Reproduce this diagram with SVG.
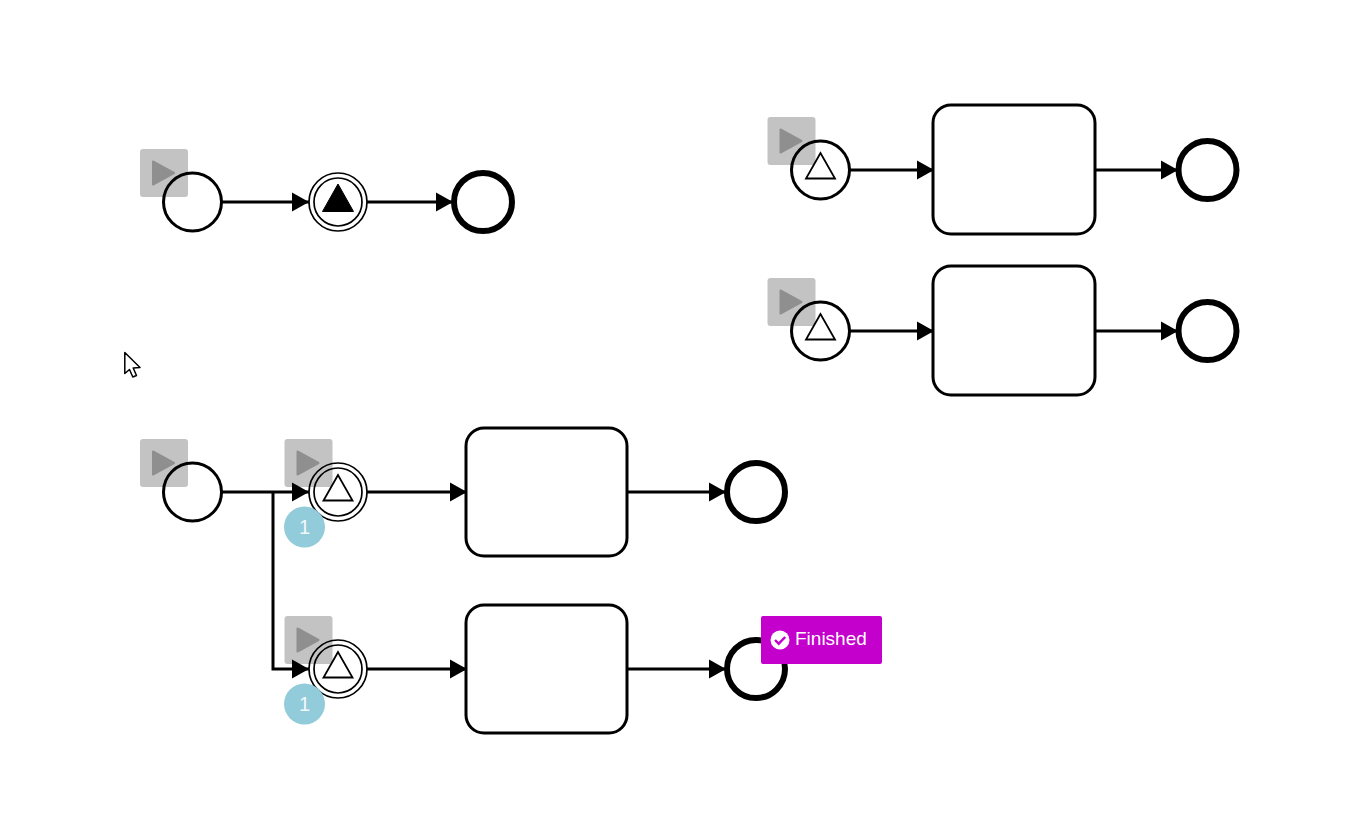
<svg xmlns="http://www.w3.org/2000/svg" width="1361" height="834" viewBox="0 0 1361 834">
<defs>
<style>
.ev{fill:#fff;stroke:#000;stroke-width:3}
.end{fill:#fff;stroke:#000;stroke-width:6}
.thin{fill:#fff;stroke:#000;stroke-width:1.7}
.task{fill:#fff;stroke:#000;stroke-width:3}
.flow{fill:none;stroke:#000;stroke-width:3;marker-end:url(#arrow)}
.tri{fill:#fff;stroke:#000;stroke-width:1.8;stroke-linejoin:miter}
.ov{fill:#000;fill-opacity:.235}
.play{fill:#8f8f8f;stroke:#8f8f8f;stroke-width:2;stroke-linejoin:round}
.count{fill:#92cbda}
.ct{fill:#fff;fill-opacity:.9;font-family:"Liberation Sans",Arial,sans-serif;font-size:20px;text-anchor:middle}
</style>
<marker id="arrow" markerUnits="userSpaceOnUse" markerWidth="18" markerHeight="20" refX="17" refY="10" orient="auto">
<path d="M0 .5L17 10L0 19.500Z" fill="#000"/>
</marker>
<g id="playIcon"><rect class="ov" width="48" height="48" rx="3"/><path class="play" d="M13 12.500L34 24L13 35.500Z"/></g>
</defs>
<g id="connectors">
<path class="flow" d="M222 202H309"/>
<path class="flow" d="M367 202H453"/>
<path class="flow" d="M850 170H934"/>
<path class="flow" d="M1095 170H1178"/>
<path class="flow" d="M850 331H934"/>
<path class="flow" d="M1095 331H1178"/>
<path class="flow" d="M222 492H309"/>
<path class="flow" d="M273 492V669H309"/>
<path class="flow" d="M367 492H467"/>
<path class="flow" d="M627 492H726"/>
<path class="flow" d="M367 669H467"/>
<path class="flow" d="M627 669H726"/>
</g>
<g id="start1"><circle class="ev" cx="192.500" cy="202" r="29"/></g>
<g id="catch1"><circle class="thin" cx="338" cy="202" r="29"/><circle class="thin" cx="338" cy="202" r="24"/><path d="M338 184L322.500 211.500H353.500Z" fill="#000" stroke="#000" stroke-width="1"/></g>
<g id="end1"><circle class="end" cx="483" cy="202" r="29"/></g>
<g id="start2"><circle class="ev" cx="820.500" cy="170" r="29"/><path class="tri" d="M820.500 153L806 178.500H835Z"/></g>
<g id="task2"><rect class="task" x="933" y="105" width="162" height="129" rx="18"/></g>
<g id="end2"><circle class="end" cx="1207.500" cy="170" r="29"/></g>
<g id="start3"><circle class="ev" cx="820.500" cy="331" r="29"/><path class="tri" d="M820.500 314L806 339.500H835Z"/></g>
<g id="task3"><rect class="task" x="933" y="266" width="162" height="129" rx="18"/></g>
<g id="end3"><circle class="end" cx="1207.500" cy="331" r="29"/></g>
<g id="start4"><circle class="ev" cx="192.500" cy="492" r="29"/></g>
<g id="catch4"><circle class="thin" cx="338" cy="492" r="29"/><circle class="thin" cx="338" cy="492" r="24"/><path class="tri" d="M338 475L323.500 500.500H352.500Z"/></g>
<g id="task4"><rect class="task" x="466" y="428" width="161" height="128" rx="18"/></g>
<g id="end4"><circle class="end" cx="756" cy="492" r="29"/></g>
<g id="catch5"><circle class="thin" cx="338" cy="669" r="29"/><circle class="thin" cx="338" cy="669" r="24"/><path class="tri" d="M338 652L323.500 677.500H352.500Z"/></g>
<g id="task5"><rect class="task" x="466" y="605" width="161" height="128" rx="18"/></g>
<g id="end5"><circle class="end" cx="756" cy="669" r="29"/></g>
<g id="overlays">
<use href="#playIcon" x="140" y="149"/>
<use href="#playIcon" x="767.500" y="117"/>
<use href="#playIcon" x="767.500" y="278"/>
<use href="#playIcon" x="140" y="439"/>
<use href="#playIcon" x="284.500" y="439"/>
<use href="#playIcon" x="284.500" y="616"/>
</g>
<g id="badge1"><circle class="count" cx="304.500" cy="527" r="20.500"/><text class="ct" x="304.500" y="534">1</text></g>
<g id="badge2"><circle class="count" cx="304.500" cy="704" r="20.500"/><text class="ct" x="304.500" y="711">1</text></g>
<g id="finished">
<rect x="761" y="616" width="121" height="48" rx="2" fill="#c400cc"/>
<circle cx="780" cy="640" r="9.500" fill="#fff"/>
<path d="M775 640L778.700 643.700L785.200 637" fill="none" stroke="#c400cc" stroke-width="2.400"/>
<text x="795" y="645" fill="#fff" font-family="'Liberation Sans',Arial,sans-serif" font-size="19px">Finished</text>
</g>
<g id="cursor"><path d="M124.800 352.500V373.500L129.500 369.500L132.800 377L136.500 375.500L133.200 368L140 367.500Z" fill="#fff" stroke="#000" stroke-width="1.500" stroke-linejoin="round"/></g>
</svg>
